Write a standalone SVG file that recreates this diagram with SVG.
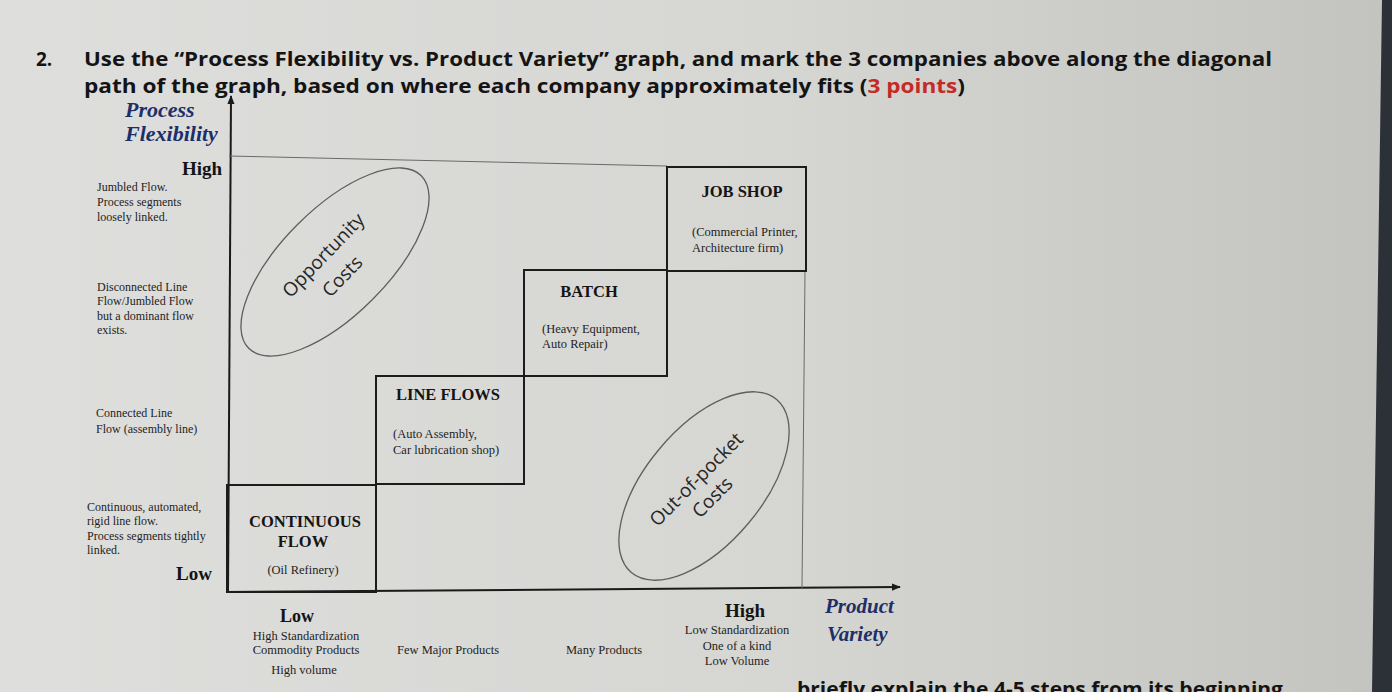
<svg xmlns="http://www.w3.org/2000/svg" width="1392" height="692" viewBox="0 0 1392 692">
<defs>
<linearGradient id="bg" x1="0" y1="0" x2="1" y2="0">
<stop offset="0" stop-color="#dededc"/>
<stop offset="0.55" stop-color="#d6d6d3"/>
<stop offset="1" stop-color="#c3c3bf"/>
</linearGradient>
<marker id="arr" viewBox="0 0 10 10" refX="9" refY="5" markerWidth="9" markerHeight="9" markerUnits="userSpaceOnUse" orient="auto">
<path d="M0,1 L10,5 L0,9 Z" fill="#1a1a1a"/>
</marker>
<style>
.title{font-family:"Open Sans","Liberation Sans",sans-serif;font-weight:700;font-size:19px;fill:#141414}
.red{fill:#c42a26}
.axt{font-family:"Liberation Serif",serif;font-weight:700;font-style:italic;font-size:22px;fill:#1d2f68}
.hl{font-family:"Liberation Serif",serif;font-weight:700;font-size:19px;fill:#141414}
.sm{font-family:"Liberation Serif",serif;font-size:12px;fill:#1e1e1e}
.bx{font-family:"Liberation Serif",serif;font-weight:700;font-size:16.5px;fill:#141414}
.ann{font-family:"Liberation Serif",serif;font-size:12.5px;fill:#1e1e1e}
.oval{fill:none;stroke:#5e5e5e;stroke-width:1.3}
.ovt{font-family:"Open Sans","Noto Sans",sans-serif;font-size:19px;fill:#262626}
.box{fill:none;stroke:#1c1c1c;stroke-width:2}
.thin{fill:none;stroke:#6a6a6a;stroke-width:1}
.axis{fill:none;stroke:#1a1a1a;stroke-width:2}
</style>
</defs>
<rect x="0" y="0" width="1392" height="692" fill="url(#bg)"/>
<polygon points="1382,0 1392,0 1392,692 1372,692" fill="#2b3137"/>

<g id="question">
<text class="title" x="36" y="66">2.</text>
<text class="title" x="84" y="66" textLength="1188" lengthAdjust="spacingAndGlyphs">Use the “Process Flexibility vs. Product Variety” graph, and mark the 3 companies above along the diagonal</text>
<text class="title" x="84" y="93" textLength="881" lengthAdjust="spacingAndGlyphs">path of the graph, based on where each company approximately fits (<tspan class="red">3 points</tspan>)</text>
<text class="title" x="797" y="696" textLength="486" lengthAdjust="spacingAndGlyphs">briefly explain the 4-5 steps from its beginning</text>
</g>

<g id="connectors">
<line class="axis" x1="228" y1="592" x2="231" y2="96" marker-end="url(#arr)"/>
<line class="axis" x1="226" y1="592" x2="900" y2="587" marker-end="url(#arr)"/>
<line class="thin" x1="229" y1="156" x2="667" y2="166"/>
<line class="thin" x1="805" y1="271" x2="802" y2="588"/>
</g>

<g id="y-axis-labels">
<text class="axt" x="125" y="117">Process</text>
<text class="axt" x="125" y="141">Flexibility</text>
<text class="hl" x="222" y="175" text-anchor="end">High</text>
<text class="hl" x="212" y="580" text-anchor="end">Low</text>
<text class="sm" x="97" y="191">Jumbled Flow.</text>
<text class="sm" x="97" y="206">Process segments</text>
<text class="sm" x="97" y="221">loosely linked.</text>
<text class="sm" x="97" y="291">Disconnected Line</text>
<text class="sm" x="97" y="305">Flow/Jumbled Flow</text>
<text class="sm" x="97" y="320">but a dominant flow</text>
<text class="sm" x="97" y="334">exists.</text>
<text class="sm" x="96" y="417">Connected Line</text>
<text class="sm" x="96" y="433">Flow (assembly line)</text>
<text class="sm" x="87" y="511">Continuous, automated,</text>
<text class="sm" x="87" y="525">rigid line flow.</text>
<text class="sm" x="87" y="540">Process segments tightly</text>
<text class="sm" x="87" y="554">linked.</text>
</g>

<g id="continuous-flow">
<rect class="box" x="227" y="485" width="149" height="107"/>
<text class="bx" x="305" y="527" text-anchor="middle">CONTINUOUS</text>
<text class="bx" x="303" y="547" text-anchor="middle">FLOW</text>
<text class="ann" x="303" y="574" text-anchor="middle">(Oil Refinery)</text>
</g>

<g id="line-flows">
<rect class="box" x="376" y="376" width="148" height="108"/>
<text class="bx" x="448" y="400" text-anchor="middle">LINE FLOWS</text>
<text class="ann" x="393" y="438">(Auto Assembly,</text>
<text class="ann" x="393" y="454">Car lubrication shop)</text>
</g>

<g id="batch">
<rect class="box" x="524" y="270" width="143" height="106"/>
<text class="bx" x="589" y="297" text-anchor="middle">BATCH</text>
<text class="ann" x="542" y="333">(Heavy Equipment,</text>
<text class="ann" x="542" y="348">Auto Repair)</text>
</g>

<g id="job-shop">
<rect class="box" x="667" y="167" width="139" height="104"/>
<text class="bx" x="742" y="197" text-anchor="middle">JOB SHOP</text>
<text class="ann" x="692" y="236">(Commercial Printer,</text>
<text class="ann" x="692" y="252">Architecture firm)</text>
</g>

<g id="opportunity-costs">
<ellipse class="oval" cx="335" cy="262" rx="122" ry="53" transform="rotate(-45 335 262)"/>
<text class="ovt" text-anchor="middle" transform="translate(323 255) rotate(-46)" y="7">Opportunity</text>
<text class="ovt" text-anchor="middle" transform="translate(342 276) rotate(-46)" y="7">Costs</text>
</g>

<g id="out-of-pocket-costs">
<ellipse class="oval" cx="704" cy="486" rx="113" ry="58" transform="rotate(-50 704 486)"/>
<text class="ovt" text-anchor="middle" transform="translate(696 479) rotate(-45)" y="7">Out-of-pocket</text>
<text class="ovt" text-anchor="middle" transform="translate(712 497) rotate(-45)" y="7">Costs</text>
</g>

<g id="x-axis-labels">
<text class="hl" x="297" y="622" text-anchor="middle" style="font-size:18px">Low</text>
<text class="ann" x="306" y="640" text-anchor="middle">High Standardization</text>
<text class="ann" x="306" y="654" text-anchor="middle">Commodity Products</text>
<text class="ann" x="304" y="674" text-anchor="middle">High volume</text>
<text class="ann" x="397" y="654">Few Major Products</text>
<text class="ann" x="566" y="654">Many Products</text>
<text class="hl" x="745" y="617" text-anchor="middle">High</text>
<text class="ann" x="737" y="634" text-anchor="middle">Low Standardization</text>
<text class="ann" x="737" y="650" text-anchor="middle">One of a kind</text>
<text class="ann" x="737" y="665" text-anchor="middle">Low Volume</text>
<text class="axt" x="825" y="613" style="font-size:21px">Product</text>
<text class="axt" x="827" y="641" style="font-size:21px">Variety</text>
</g>
</svg>
